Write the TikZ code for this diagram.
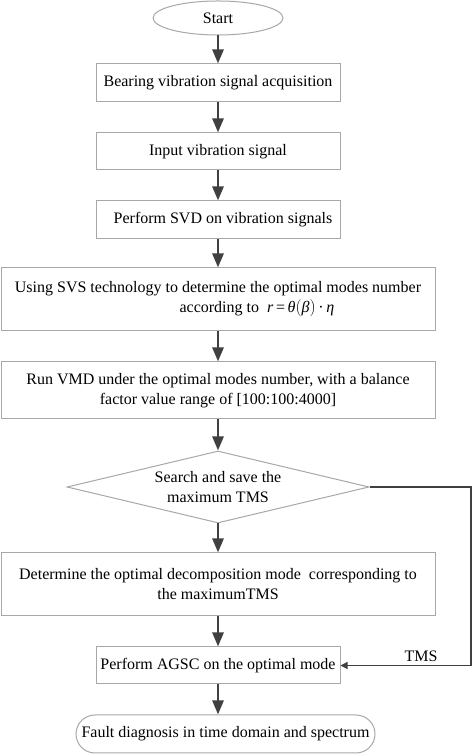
\documentclass[tikz,border=0pt]{standalone}
\usepackage{fontspec}
\setmainfont{Liberation Serif}
\usetikzlibrary{arrows.meta,shapes.geometric,shapes.misc}
\definecolor{boxline}{HTML}{A8A8A8}
\definecolor{arr}{HTML}{404040}
\tikzset{
  proc/.style={draw=boxline,line width=1pt,rectangle,inner sep=2pt,align=center,font=\fontsize{16}{20}\selectfont,text=black},
  flow/.style={draw=arr,line width=2.6pt,-{Triangle[width=11pt,length=14pt]}},
  back/.style={draw=arr,line width=1.2pt,-{Triangle[width=7pt,length=7pt]}}
}
\begin{document}
\begin{tikzpicture}[x=1pt,y=1pt]
\useasboundingbox (0,0) rectangle (474,754);
\fill[white] (0,0) rectangle (474,754);
\node[proc,ellipse,minimum width=130pt,minimum height=34pt,inner sep=0pt] (start) at (218,736) {Start};
\node[proc,minimum width=244pt,minimum height=38pt] (b1) at (218,671) {Bearing vibration signal acquisition};
\node[proc,minimum width=244pt,minimum height=37pt] (b2) at (218,602.5) {Input vibration signal};
\node[proc,minimum width=244pt,minimum height=38pt] (b3) at (218,534) {\hspace*{10pt}Perform SVD on vibration signals};
\node[proc,minimum width=434pt,minimum height=63pt] (b4) at (218,454.5) {Using SVS technology to determine the optimal modes number\\\hspace*{78pt}according to \ \textit{r}\,=\,\textit{θ}\big(\textit{β}\big)\,·\,\textit{η}};
\node[proc,minimum width=434pt,minimum height=57pt] (b5) at (218,363.5) {Run VMD under the optimal modes number, with a balance\\factor value range of [100:100:4000]};
\node[proc,diamond,aspect=4.2,minimum width=302pt,minimum height=72pt,inner sep=0pt] (d) at (218,267) {Search and save the\\maximum TMS};
\node[proc,minimum width=434pt,minimum height=63pt] (b6) at (218,169.5) {Determine the optimal decomposition mode \ corresponding to\\the maximumTMS};
\node[proc,minimum width=244pt,minimum height=37pt] (b7) at (218,88.5) {Perform AGSC on the optimal mode};
\node[proc,rounded rectangle,minimum width=303pt,minimum height=38pt] (end) at (225.5,20) {Fault diagnosis in time domain and spectrum};
\coordinate (c1) at (471,267);
\coordinate (c2) at (471,88.5);
\node[font=\fontsize{16}{20}\selectfont] (tms) at (421,98) {TMS};
\draw[flow] (start) -- (b1);
\draw[flow] (b1) -- (b2);
\draw[flow] (b2) -- (b3);
\draw[flow] (b3) -- (b4);
\draw[flow] (b4) -- (b5);
\draw[flow] (b5) -- (d);
\draw[flow] (d) -- (b6);
\draw[flow] (b6) -- (b7);
\draw[flow] (b7.south) -- (end.north -| b7.south);
\draw[back] (d.east) -- (c1) -- (c2) -- (b7.east);
\end{tikzpicture}
\end{document}
